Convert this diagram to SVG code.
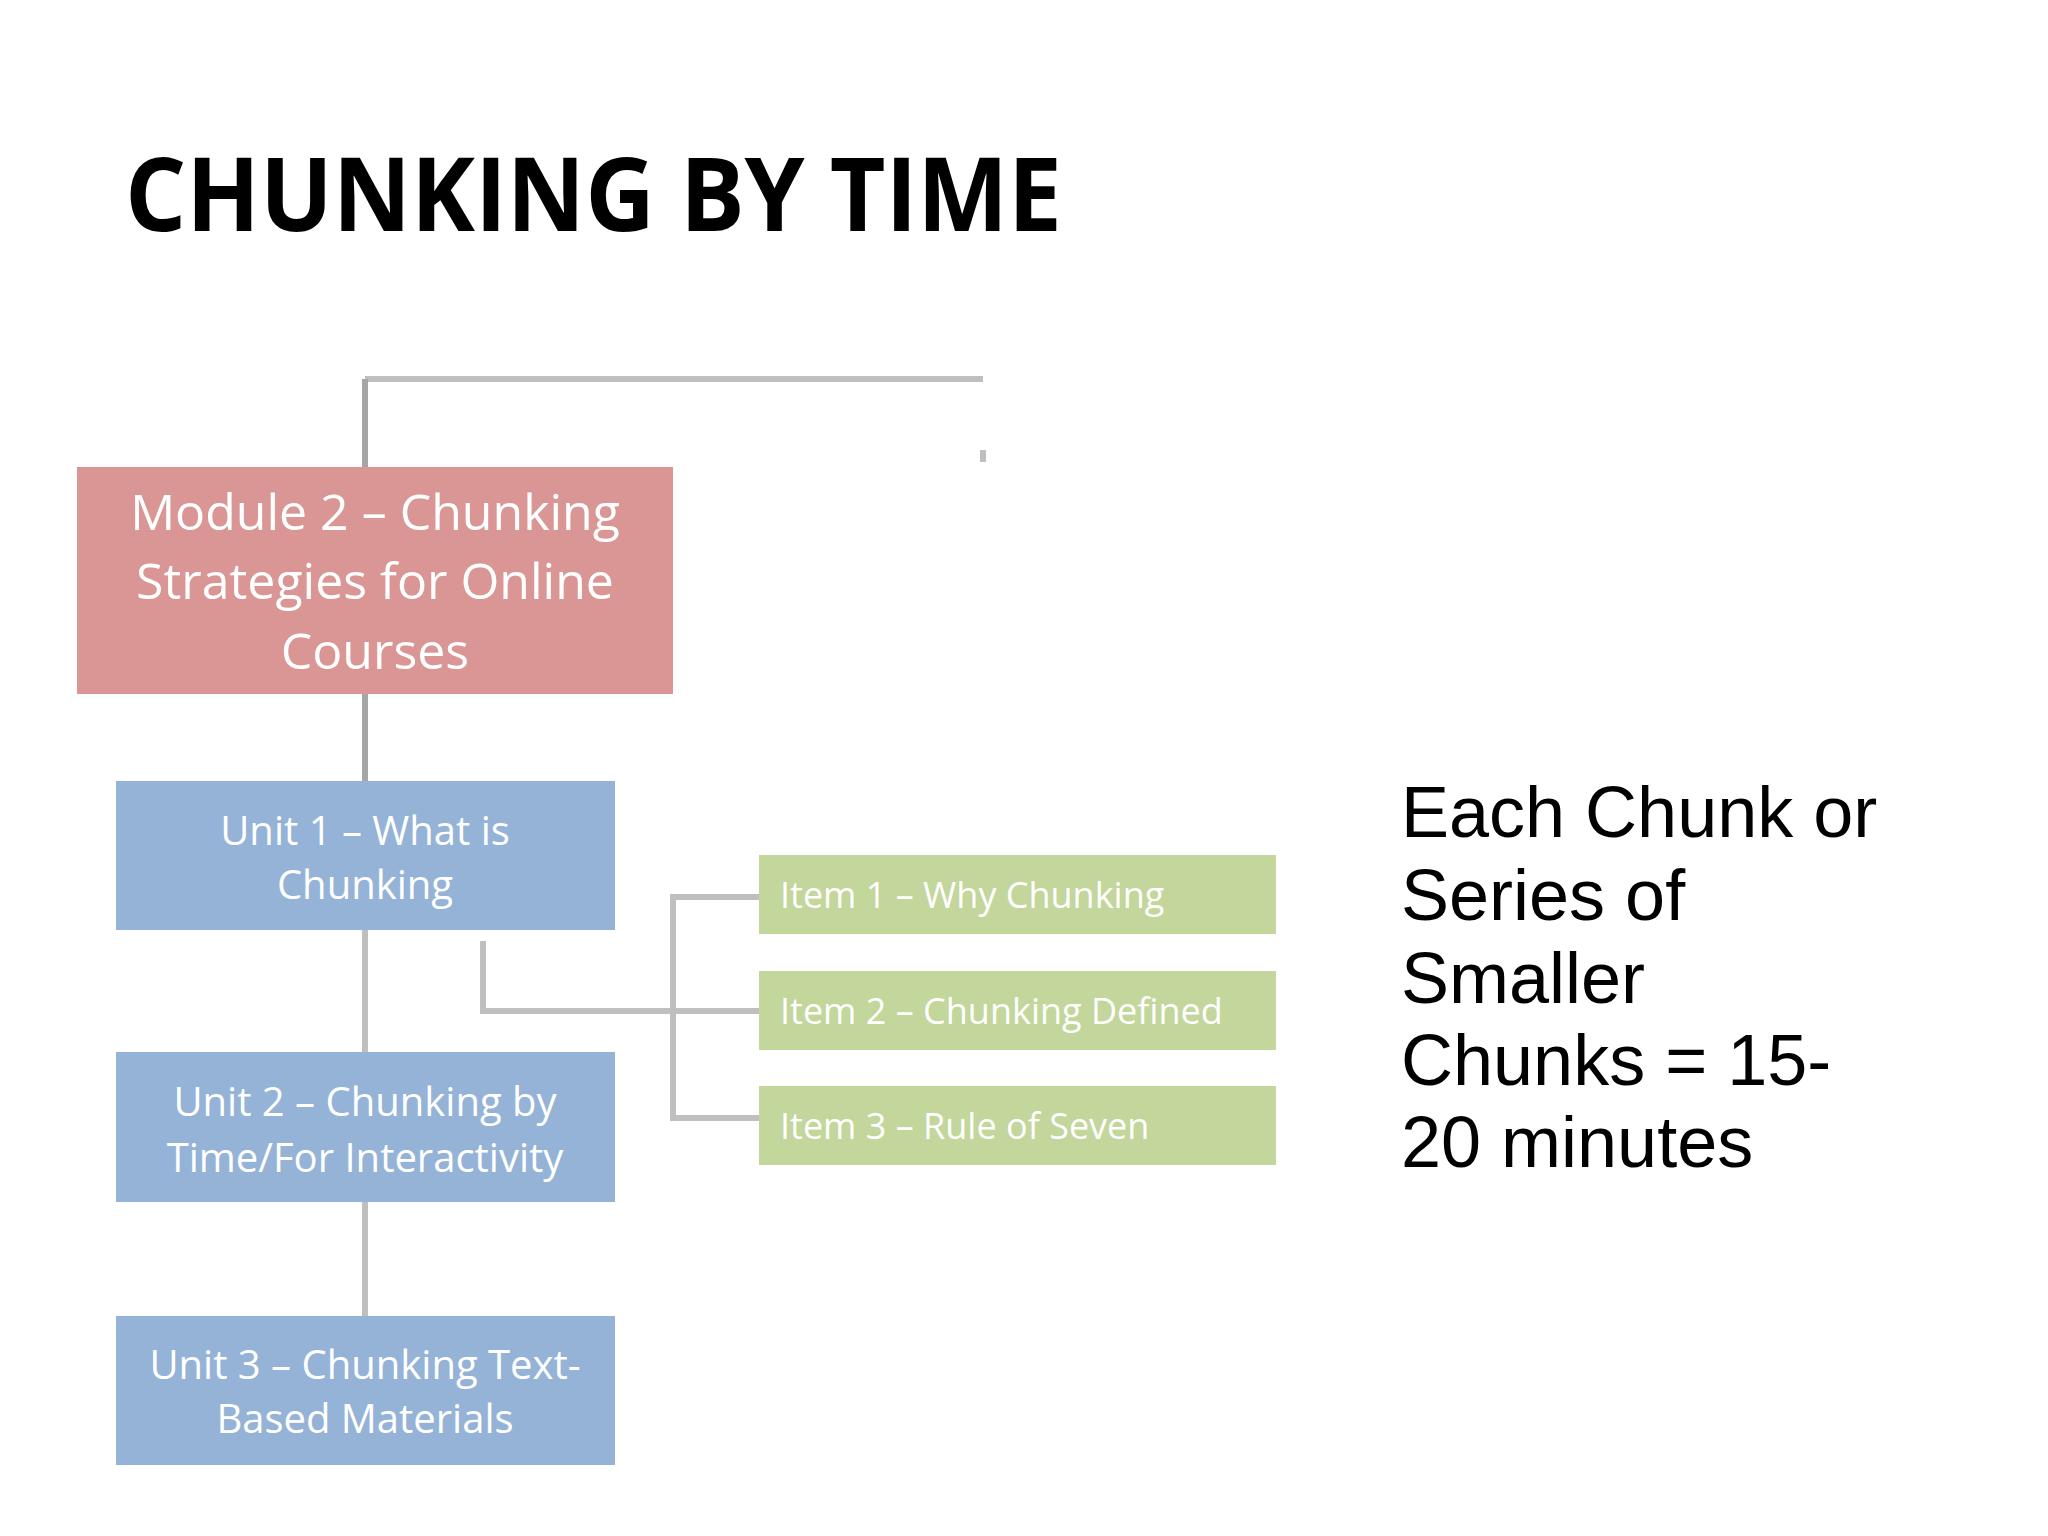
<svg xmlns="http://www.w3.org/2000/svg" width="2048" height="1536" viewBox="0 0 2048 1536">
<style>
.c{fill:none;stroke:#bfbfbf;stroke-width:6}
.cd{fill:none;stroke:#a6a6a6;stroke-width:6}
.t{font-family:"Open Sans","Noto Sans",sans-serif;fill:#fff;text-anchor:middle}
.it{font-family:"Open Sans","Noto Sans",sans-serif;fill:#fff;font-size:36px}
</style>
<rect width="2048" height="1536" fill="#fff"/>
<text x="125" y="231" font-family="Open Sans,Noto Sans,sans-serif" font-weight="bold" font-size="102" textLength="937" lengthAdjust="spacingAndGlyphs">CHUNKING BY TIME</text>
<g id="connectors">
<path class="c" d="M365 379H983"/>
<path class="cd" d="M365 379V467"/>
<path class="c" d="M983 450V462" stroke-width="2"/>
<path class="cd" d="M365 694V781"/>
<path class="c" d="M365 930V1052"/>
<path class="c" d="M365 1202V1316"/>
<path class="c" d="M483 941V1011H759"/>
<path class="c" d="M759 897H673V1118H759"/>
</g>
<g id="module"><rect x="77" y="467" width="596" height="227" fill="#d99694"/>
<text class="t" font-size="50"><tspan x="375" y="530">Module 2 – Chunking</tspan><tspan x="375" y="599">Strategies for Online</tspan><tspan x="375" y="669">Courses</tspan></text></g>
<g id="unit1"><rect x="116" y="781" width="499" height="149" fill="#95b3d7"/>
<text class="t" font-size="40"><tspan x="365" y="845">Unit 1 – What is</tspan><tspan x="365" y="899">Chunking</tspan></text></g>
<g id="unit2"><rect x="116" y="1052" width="499" height="150" fill="#95b3d7"/>
<text class="t" font-size="40"><tspan x="365" y="1116">Unit 2 – Chunking by</tspan><tspan x="365" y="1172">Time/For Interactivity</tspan></text></g>
<g id="unit3"><rect x="116" y="1316" width="499" height="149" fill="#95b3d7"/>
<text class="t" font-size="40"><tspan x="365" y="1379">Unit 3 – Chunking Text-</tspan><tspan x="365" y="1433">Based Materials</tspan></text></g>
<g id="item1"><rect x="759" y="855" width="517" height="79" fill="#c3d69b"/><text class="it" x="780" y="908">Item 1 – Why Chunking</text></g>
<g id="item2"><rect x="759" y="971" width="517" height="79" fill="#c3d69b"/><text class="it" x="780" y="1024">Item 2 – Chunking Defined</text></g>
<g id="item3"><rect x="759" y="1086" width="517" height="79" fill="#c3d69b"/><text class="it" x="780" y="1139">Item 3 – Rule of Seven</text></g>
<text font-family="Liberation Sans,Arial,sans-serif" font-size="72" fill="#000"><tspan x="1401" y="837">Each Chunk or</tspan><tspan x="1401" y="920">Series of</tspan><tspan x="1401" y="1003">Smaller</tspan><tspan x="1401" y="1085">Chunks = 15-</tspan><tspan x="1401" y="1167">20 minutes</tspan></text>
</svg>
